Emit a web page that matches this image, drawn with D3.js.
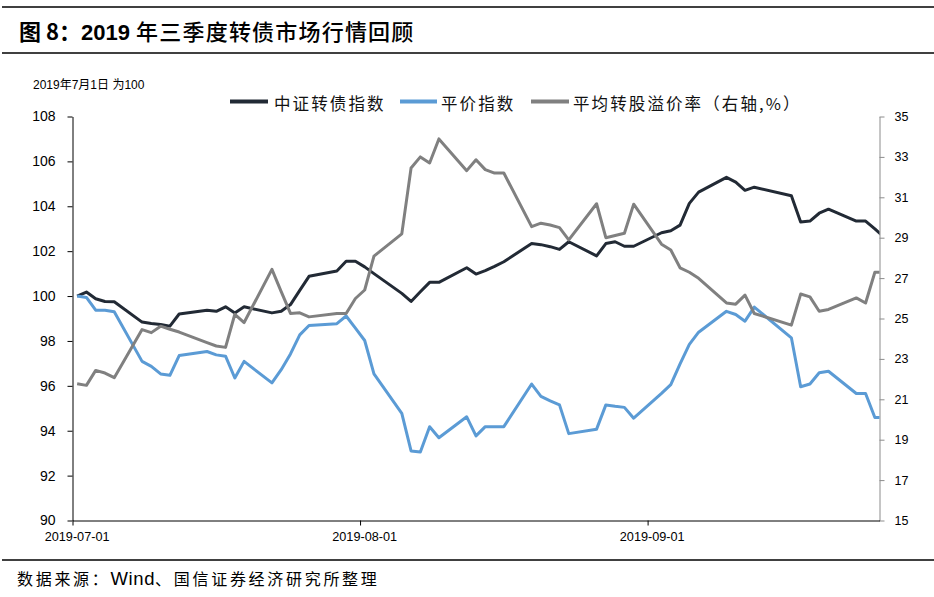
<!DOCTYPE html>
<html>
<head>
<meta charset="utf-8">
<script src="https://cdn.jsdelivr.net/npm/d3@7"></script>
<style>
  html, body { margin: 0; padding: 0; background: #fff; }
  svg { display: block; }
</style>
</head>
<body>
<svg id="chart" width="934" height="597"></svg>
<script>
// ---------------- data ----------------
const dates = [
  "2019-07-01","2019-07-02","2019-07-03","2019-07-04","2019-07-05",
  "2019-07-08","2019-07-09","2019-07-10","2019-07-11","2019-07-12",
  "2019-07-15","2019-07-16","2019-07-17","2019-07-18","2019-07-19",
  "2019-07-22","2019-07-23","2019-07-24","2019-07-25","2019-07-26",
  "2019-07-29","2019-07-30","2019-07-31",
  "2019-08-01","2019-08-02",
  "2019-08-05","2019-08-06","2019-08-07","2019-08-08","2019-08-09",
  "2019-08-12","2019-08-13","2019-08-14","2019-08-15","2019-08-16",
  "2019-08-19","2019-08-20","2019-08-21","2019-08-22","2019-08-23",
  "2019-08-26","2019-08-27","2019-08-28","2019-08-29","2019-08-30",
  "2019-09-02","2019-09-03","2019-09-04","2019-09-05","2019-09-06",
  "2019-09-09","2019-09-10","2019-09-11","2019-09-12",
  "2019-09-16","2019-09-17","2019-09-18","2019-09-19","2019-09-20",
  "2019-09-23","2019-09-24","2019-09-25","2019-09-26"
];
// 中证转债指数 (left axis)
const cbIndex = [
  100.00,100.18,99.88,99.76,99.75,
  98.84,98.78,98.73,98.66,99.20,
  99.37,99.32,99.52,99.25,99.52,
  99.25,99.32,99.62,100.25,100.88,
  101.12,101.55,101.55,
  101.30,101.00,
  100.12,99.76,100.19,100.61,100.61,
  101.26,100.98,101.13,101.32,101.53,
  102.34,102.29,102.20,102.08,102.42,
  101.79,102.34,102.42,102.22,102.22,
  102.82,102.91,103.16,104.13,104.63,
  105.29,105.08,104.71,104.85,
  104.47,103.30,103.34,103.69,103.87,
  103.34,103.34,102.99,102.62
];
// 平价指数 (left axis)
const parityIndex = [
  100.00,99.94,99.37,99.37,99.30,
  97.09,96.87,96.53,96.47,97.35,
  97.53,97.38,97.32,96.35,97.09,
  96.13,96.72,97.42,98.27,98.69,
  98.77,99.11,98.57,
  98.02,96.53,
  94.77,93.10,93.05,94.18,93.69,
  94.62,93.77,94.18,94.18,94.18,
  96.08,95.53,95.33,95.15,93.87,
  94.07,95.15,95.09,95.04,94.56,
  95.66,96.05,96.98,97.85,98.39,
  99.32,99.18,98.88,99.51,
  98.14,95.96,96.08,96.58,96.65,
  95.66,95.66,94.59,94.59
];
// 平均转股溢价率 (right axis, %)
const premium = [
  21.77,21.69,22.43,22.30,22.07,
  24.45,24.30,24.62,24.47,24.33,
  23.81,23.64,23.57,25.21,24.80,
  27.43,26.33,25.25,25.28,25.08,
  25.25,25.25,25.99,
  26.41,28.09,
  29.19,32.45,33.00,32.70,33.89,
  32.32,32.86,32.37,32.20,32.20,
  29.55,29.72,29.63,29.50,28.89,
  30.68,29.00,29.11,29.22,30.66,
  28.68,28.39,27.51,27.29,26.99,
  25.77,25.71,26.16,25.25,
  24.67,26.21,26.07,25.36,25.45,
  26.02,25.77,27.29,27.29
];
const seriesNames = ["中证转债指数", "平价指数", "平均转股溢价率（右轴,%）"];
const leftTicks = [90, 92, 94, 96, 98, 100, 102, 104, 106, 108];
const rightTicks = [15, 17, 19, 21, 23, 25, 27, 29, 31, 33, 35];
const xTickLabels = ["2019-07-01", "2019-08-01", "2019-09-01"];
const xDomain = ["2019-07-01", "2019-09-26"];
const titleText = "图 8：2019 年三季度转债市场行情回顾";
const unitText = "2019年7月1日 为100";
const sourceText = "数据来源：Wind、国信证券经济研究所整理";

// ---------------- chart ----------------
const parse = d3.timeParse("%Y-%m-%d");
const svg = d3.select("#chart");
const colors = ["#222a35", "#5b9bd5", "#808080"];

const pLeft = 72.5, pRight = 879.5, pTop = 116.5, pBottom = 520.5;

const x = d3.scaleTime().domain(xDomain.map(parse)).range([pLeft, pRight]);
const yL = d3.scaleLinear().domain([90, 108]).range([pBottom, pTop]);
const yR = d3.scaleLinear().domain([15, 35]).range([pBottom, pTop]);
const mid = d => d3.timeHour.offset(parse(d), 12);

// rules
[7, 53, 560].forEach(yy => {
  svg.append("line").attr("x1", 2).attr("x2", 934).attr("y1", yy).attr("y2", yy)
    .attr("stroke", "#000").attr("stroke-width", 1.5);
});

// title
const title = svg.append("text").attr("x", 19).attr("y", 40)
  .attr("font-size", 22).attr("fill", "#000")
  .attr("font-family", "'Liberation Sans','Noto Sans CJK SC',sans-serif");
const tParts = titleText.match(/^(图 8：)(2019)( .*)$/);
title.append("tspan").attr("font-weight", "bold")
  .attr("font-family", "'Noto Sans CJK SC',sans-serif").text(tParts[1]);
title.append("tspan").attr("font-weight", "bold").text(tParts[2]);
title.append("tspan").attr("font-weight", 500)
  .attr("font-family", "'Noto Sans CJK SC',sans-serif")
  .attr("letter-spacing", 1.2).text(tParts[3]);

// unit text
svg.append("text").attr("x", 33).attr("y", 89)
  .attr("font-size", 12).attr("fill", "#000")
  .attr("font-family", "'Liberation Sans','Noto Sans CJK SC',sans-serif")
  .text(unitText);

// source (CJK parts spaced, Latin part unspaced and slightly larger)
const sParts = sourceText.match(/^(.*：)(Wind)(.*)$/);
const src = svg.append("text").attr("x", 17).attr("y", 585)
  .attr("font-size", 16).attr("fill", "#000")
  .attr("font-family", "'Noto Sans CJK SC','Liberation Sans',sans-serif");
src.append("tspan").attr("letter-spacing", 2.7).text(sParts[1]);
src.append("tspan").attr("font-size", 18.5).attr("letter-spacing", 0.6)
  .attr("font-family", "'Liberation Sans',Arial,sans-serif").text(sParts[2]);
src.append("tspan").attr("letter-spacing", 2.7).text(sParts[3]);

// legend
const legendPos = [
  { lx1: 230, lx2: 268, tx: 274 },
  { lx1: 400, lx2: 437, tx: 441 },
  { lx1: 531, lx2: 569, tx: 573 }
];
const lg = svg.append("g");
seriesNames.forEach((name, i) => {
  const p = legendPos[i];
  lg.append("line").attr("x1", p.lx1).attr("x2", p.lx2)
    .attr("y1", 101.5).attr("y2", 101.5)
    .attr("stroke", colors[i]).attr("stroke-width", 4);
  lg.append("text").attr("x", p.tx).attr("y", 102.5)
    .attr("dominant-baseline", "central")
    .attr("font-size", 16.5).attr("letter-spacing", 2.1).attr("fill", "#111")
    .attr("font-family", "'Noto Sans CJK SC',sans-serif")
    .text(name);
});

// axes
const axL = svg.append("g").attr("transform", `translate(${pLeft},0)`)
  .call(d3.axisLeft(yL).tickValues(leftTicks).tickSize(5).tickSizeOuter(0).tickPadding(12));
axL.select(".domain").attr("stroke", "#000");
axL.selectAll(".tick line").attr("stroke", "#000");
axL.selectAll("text").attr("font-size", 14).attr("fill", "#000")
  .attr("font-family", "'Liberation Sans',Arial,sans-serif");

const axR = svg.append("g").attr("transform", `translate(${pRight},0)`)
  .call(d3.axisRight(yR).tickValues(rightTicks).tickSize(5).tickSizeOuter(0).tickPadding(10));
axR.select(".domain").attr("stroke", "#8c8c8c");
axR.selectAll(".tick line").attr("stroke", "#8c8c8c");
axR.selectAll("text").attr("font-size", 12.5).attr("fill", "#000")
  .attr("font-family", "'Liberation Sans',Arial,sans-serif");

const axB = svg.append("g").attr("transform", `translate(0,${pBottom})`)
  .call(d3.axisBottom(x).tickValues(xTickLabels.map(parse)).tickSize(5)
    .tickSizeOuter(0).tickFormat(""));
axB.select(".domain").attr("stroke", "#000");
axB.selectAll(".tick line").attr("stroke", "#000");

svg.append("g").selectAll("text").data(xTickLabels).join("text")
  .attr("x", d => x(mid(d))).attr("y", 540.5)
  .attr("text-anchor", "middle")
  .attr("font-size", 12.7).attr("fill", "#000")
  .attr("font-family", "'Liberation Sans',Arial,sans-serif")
  .text(d => d);

// clip
svg.append("clipPath").attr("id", "plotClip").append("rect")
  .attr("x", pLeft).attr("y", pTop - 10).attr("width", pRight - pLeft)
  .attr("height", pBottom - pTop + 20);

// lines
const plot = svg.append("g").attr("clip-path", "url(#plotClip)");
const mk = (vals, yScale) => d3.line()
  .x((d, i) => x(mid(dates[i])))
  .y(d => yScale(d))(vals);

const seriesDefs = [
  { vals: cbIndex, y: yL, c: colors[0] },
  { vals: parityIndex, y: yL, c: colors[1] },
  { vals: premium, y: yR, c: colors[2] }
];
seriesDefs.forEach(s => {
  plot.append("path").attr("d", mk(s.vals, s.y))
    .attr("fill", "none").attr("stroke", s.c).attr("stroke-width", 3)
    .attr("stroke-linejoin", "round").attr("stroke-linecap", "butt");
});
</script>
</body>
</html>
